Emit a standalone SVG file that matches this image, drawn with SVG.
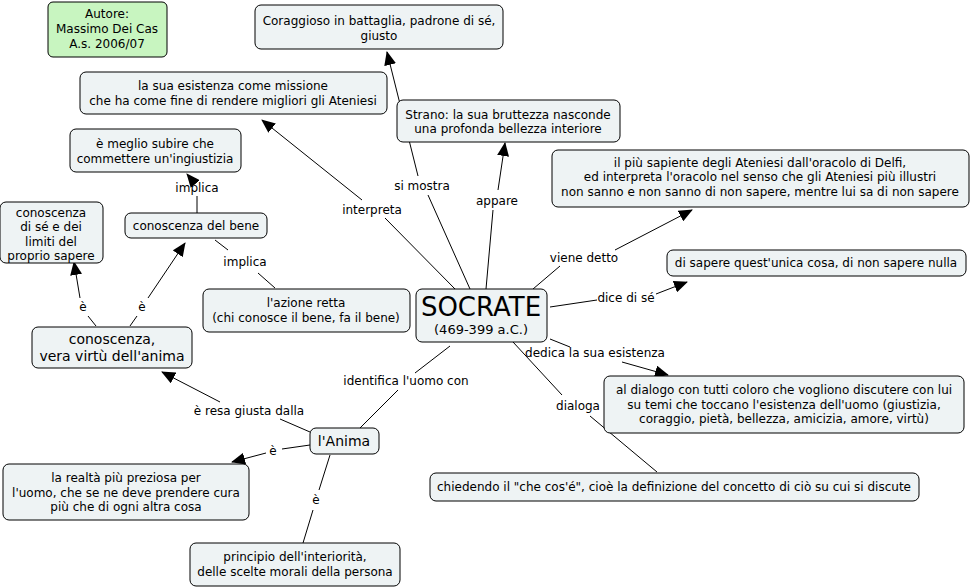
<svg xmlns="http://www.w3.org/2000/svg" width="973" height="588" viewBox="0 0 973 588">
<style>
.n rect{fill:#eef3f4;stroke:#000;stroke-width:1}
.g rect{fill:#c8f5c0}
text{font-family:"DejaVu Sans",Verdana,sans-serif;font-size:12px;text-anchor:middle;fill:#000}
.b{font-size:14px}
.l line{stroke:#000;stroke-width:1}
.a{marker-end:url(#ar)}
.lbl{fill:#fff}
</style>
<defs><marker id="ar" markerWidth="14" markerHeight="12" refX="13" refY="6" orient="auto" markerUnits="userSpaceOnUse"><path d="M0,0L14,6L0,12z" fill="#000"/></marker></defs>
<rect width="973" height="588" fill="#fff"/>
<g class="l" id="connectors">
<line x1="455" y1="289" x2="385" y2="218"/><line x1="362" y1="200" x2="262" y2="120" class="a"/>
<line x1="470" y1="289" x2="428" y2="195"/><line x1="418" y1="176" x2="387" y2="52" class="a"/>
<line x1="486" y1="289" x2="493" y2="210"/><line x1="498" y1="190" x2="505" y2="143" class="a"/>
<line x1="533" y1="289" x2="560" y2="266"/><line x1="615" y1="250" x2="692" y2="210" class="a"/>
<line x1="550" y1="307" x2="597" y2="300"/><line x1="656" y1="294" x2="687" y2="282" class="a"/>
<line x1="550" y1="339" x2="570" y2="347"/><line x1="622" y1="362" x2="668" y2="375" class="a"/>
<line x1="513" y1="342" x2="562" y2="395"/><line x1="590" y1="416" x2="657" y2="472"/>
<line x1="450" y1="346" x2="415" y2="373"/><line x1="398" y1="390" x2="360" y2="428"/>
<line x1="310" y1="432" x2="280" y2="419"/><line x1="220" y1="402" x2="162" y2="372" class="a"/>
<line x1="310" y1="445" x2="282" y2="449"/><line x1="266" y1="453" x2="232" y2="462" class="a"/>
<line x1="330" y1="455" x2="319" y2="490"/><line x1="313" y1="510" x2="303" y2="543"/>
<line x1="96" y1="326" x2="88" y2="316"/><line x1="80" y1="298" x2="74" y2="262" class="a"/>
<line x1="130" y1="326" x2="137" y2="316"/><line x1="148" y1="298" x2="185" y2="243" class="a"/>
<line x1="197" y1="213" x2="197" y2="196"/><line x1="192" y1="180" x2="187" y2="174" class="a"/>
<line x1="215" y1="240" x2="228" y2="250"/><line x1="258" y1="273" x2="275" y2="288"/>
</g>
<g id="lbls">
<text x="372" y="214">interpreta</text>
<text x="422" y="190">si mostra</text>
<text x="497" y="205">appare</text>
<text x="584" y="262">viene detto</text>
<text x="626" y="302">dice di sé</text>
<text x="595" y="357">dedica la sua esistenza</text>
<text x="578" y="410">dialoga</text>
<text x="406" y="385">identifica l'uomo con</text>
<text x="249" y="415">è resa giusta dalla</text>
<text x="273" y="455">è</text>
<text x="316" y="504">è</text>
<text x="83" y="311">è</text>
<text x="142" y="311">è</text>
<text x="197" y="192">implica</text>
<text x="245" y="266">implica</text>
</g>
<g id="autore" class="n g"><rect x="48" y="2" width="119" height="55" rx="5"/><text x="107" y="18">Autore:</text><text x="107" y="33">Massimo Dei Cas</text><text x="107" y="48">A.s. 2006/07</text></g>
<g id="coraggioso" class="n"><rect x="255" y="5" width="248" height="44" rx="6"/><text x="379" y="25">Coraggioso in battaglia, padrone di sé,</text><text x="379" y="40">giusto</text></g>
<g id="missione" class="n"><rect x="80" y="72" width="307" height="42" rx="6"/><text x="233" y="90">la sua esistenza come missione</text><text x="233" y="105">che ha come fine di rendere migliori gli Ateniesi</text></g>
<g id="strano" class="n"><rect x="397" y="100" width="223" height="42" rx="6"/><text x="508" y="119">Strano: la sua bruttezza nasconde</text><text x="508" y="133">una profonda bellezza interiore</text></g>
<g id="meglio" class="n"><rect x="70" y="129" width="171" height="43" rx="6"/><text x="155" y="148">è meglio subire che</text><text x="155" y="163">commettere un'ingiustizia</text></g>
<g id="sapiente" class="n"><rect x="552" y="150" width="417" height="57" rx="6"/><text x="760" y="167">il più sapiente degli Ateniesi dall'oracolo di Delfi,</text><text x="760" y="181">ed interpreta l'oracolo nel senso che gli Ateniesi più illustri</text><text x="760" y="196">non sanno e non sanno di non sapere, mentre lui sa di non sapere</text></g>
<g id="consese" class="n"><rect x="0" y="202" width="103" height="61" rx="6"/><text x="51" y="217">conoscenza</text><text x="51" y="231">di sé e dei</text><text x="51" y="246">limiti del</text><text x="51" y="260">proprio sapere</text></g>
<g id="bene" class="n"><rect x="125" y="213" width="142" height="25" rx="6"/><text x="196" y="230">conoscenza del bene</text></g>
<g id="sapere" class="n"><rect x="667" y="250" width="299" height="26" rx="6"/><text x="816" y="267">di sapere quest'unica cosa, di non sapere nulla</text></g>
<g id="azione" class="n"><rect x="203" y="289" width="207" height="43" rx="6"/><text x="306" y="307">l'azione retta</text><text x="306" y="322">(chi conosce il bene, fa il bene)</text></g>
<g id="socrate" class="n"><rect x="416" y="289" width="131" height="53" rx="6"/><text x="481" y="316" style="font-size:26px">SOCRATE</text><text x="481" y="334" style="font-size:13px">(469-399 a.C.)</text></g>
<g id="virtu" class="n"><rect x="32" y="327" width="160" height="41" rx="6"/><text x="112" y="344" class="b">conoscenza,</text><text x="112" y="361" class="b">vera virtù dell'anima</text></g>
<g id="dialogo" class="n"><rect x="604" y="376" width="360" height="57" rx="6"/><text x="784" y="394">al dialogo con tutti coloro che vogliono discutere con lui</text><text x="784" y="409">su temi che toccano l'esistenza dell'uomo (giustizia,</text><text x="784" y="423">coraggio, pietà, bellezza, amicizia, amore, virtù)</text></g>
<g id="anima" class="n"><rect x="310" y="428" width="69" height="26" rx="6"/><text x="344" y="446" class="b">l'Anima</text></g>
<g id="realta" class="n"><rect x="3" y="464" width="246" height="56" rx="6"/><text x="126" y="482">la realtà più preziosa per</text><text x="126" y="497">l'uomo, che se ne deve prendere cura</text><text x="126" y="511">più che di ogni altra cosa</text></g>
<g id="chiedendo" class="n"><rect x="430" y="473" width="489" height="28" rx="6"/><text x="674" y="491">chiedendo il "che cos'é", cioè la definizione del concetto di ciò su cui si discute</text></g>
<g id="principio" class="n"><rect x="190" y="543" width="210" height="43" rx="6"/><text x="295" y="561">principio dell'interiorità,</text><text x="295" y="576">delle scelte morali della persona</text></g>
</svg>
